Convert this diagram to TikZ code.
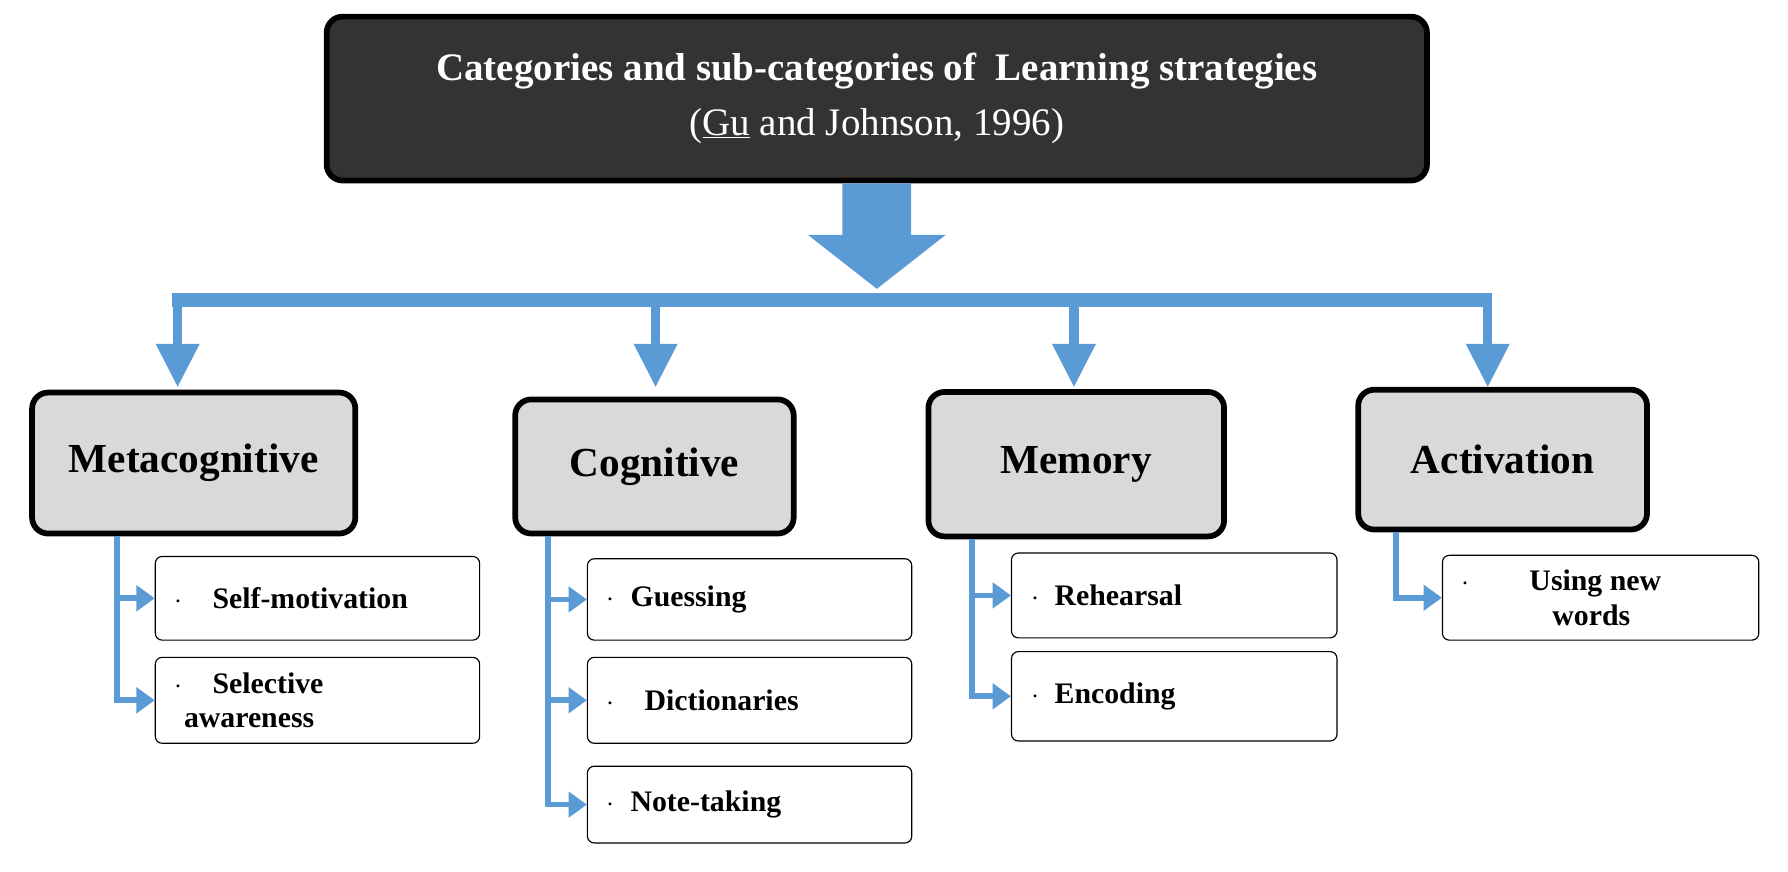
\documentclass[tikz,border=0pt]{standalone}
\usepackage{fontspec}
\setmainfont{Liberation Serif}
\usetikzlibrary{arrows.meta}
\definecolor{lblue}{HTML}{5B9BD5}
\definecolor{dark}{HTML}{333333}
\definecolor{lgray}{HTML}{D9D9D9}
\begin{document}
\begin{tikzpicture}[x=1pt,y=-1pt,
  title/.style={draw=black,line width=5pt,fill=dark,rounded corners=14pt,text=white,font=\fontsize{34}{50}\selectfont\bfseries,align=center},
  cat/.style={draw=black,line width=5pt,fill=lgray,rounded corners=14pt,font=\fontsize{36}{40}\selectfont\bfseries},
  sub/.style={draw=black,line width=1pt,fill=white,rounded corners=6pt,font=\fontsize{26}{34}\selectfont\bfseries,align=left,anchor=north west,inner sep=0pt},
  conn/.style={draw=lblue,line width=5pt,-{Triangle[length=16pt,width=22pt]}},
  drop/.style={draw=lblue,line width=8pt,-{Triangle[length=38pt,width=36pt]}}]
\useasboundingbox (0,0) rectangle (1560,760);
\node[title,minimum width=960pt,minimum height=143pt] (t) at (765,86) {Categories and sub-categories of \ Learning strategies\\[-2pt] \mdseries (\underline{Gu} and Johnson, 1996)};
% big arrow
\fill[lblue] (735,160) -- (795,160) -- (795,205) -- (825,205) -- (765,252) -- (705,205) -- (735,205) -- cycle;
\coordinate (hl) at (150,262); \coordinate (hr) at (1302,262);
\draw[lblue,line width=12pt] (hl) -- (hr);
\node[cat,minimum width=282pt,minimum height=123pt] (c1) at (169,404) {Metacognitive};
\node[cat,minimum width=243pt,minimum height=117pt] (c2) at (571,407) {Cognitive};
\node[cat,minimum width=258pt,minimum height=126pt] (c3) at (939,405) {Memory};
\node[cat,minimum width=252pt,minimum height=122pt] (c4) at (1311,401) {Activation};
\foreach \x/\c in {155/c1,572/c2,937/c3,1298/c4}{
  \coordinate (d\c) at (\x,256);
  \draw[drop] (d\c) -- (\x,338);
}
% sub boxes
\newcommand\subbox[6]{\node[sub,minimum width=#4pt,minimum height=#5pt] (#1) at (#2,#3) {};
  \node[font=\fontsize{26}{30}\selectfont\bfseries,align=center,anchor=west] at ([xshift=14pt]#1.west) {#6};}
\subbox{s1}{135}{485}{283}{73}{$\cdot$\quad Self-motivation}
\subbox{s2}{135}{573}{283}{75}{$\cdot$\quad Selective\\ awareness}
\subbox{g1}{512}{487}{283}{71}{$\cdot$\; Guessing}
\subbox{g2}{512}{573}{283}{75}{$\cdot$\quad Dictionaries}
\subbox{g3}{512}{668}{283}{67}{$\cdot$\; Note-taking}
\subbox{m1}{882}{482}{284}{74}{$\cdot$\; Rehearsal}
\subbox{m2}{882}{568}{284}{78}{$\cdot$\; Encoding}
\subbox{a1}{1258}{484}{276}{74}{$\cdot$\qquad Using new\\ \qquad words}
% connectors
\foreach \s in {s1,s2}{\draw[conn] (c1.south -| 102,0) |- (\s.west);}
\foreach \s in {g1,g2,g3}{\draw[conn] (c2.south -| 478,0) |- (\s.west);}
\foreach \s in {m1,m2}{\draw[conn] (c3.south -| 848,0) |- (\s.west);}
\draw[conn] (c4.south -| 1218,0) |- (a1.west);
\end{tikzpicture}
\end{document}
